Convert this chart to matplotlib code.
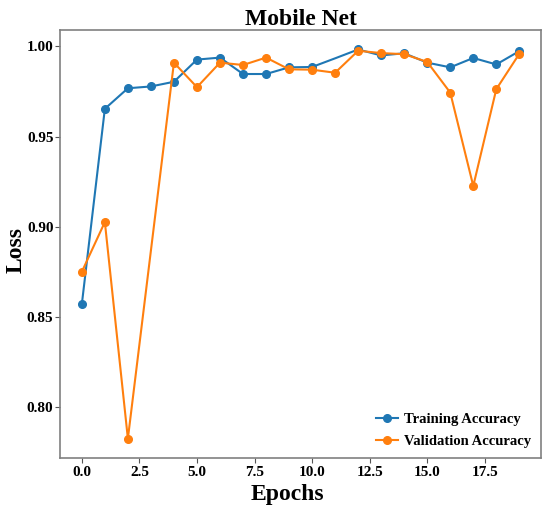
import matplotlib
matplotlib.use("Agg")
import matplotlib.pyplot as plt
import numpy as np

plt.rcParams['font.family'] = ['Liberation Serif', 'DejaVu Serif']
plt.rcParams['font.weight'] = 'bold'

epochs = np.arange(20)
train_acc = [0.857, 0.9654, 0.9768, 0.9778, 0.9804, 0.9927, 0.9938, 0.9847, 0.9847, 0.9884,
             0.9886, 0.9934, 0.9983, 0.9950, 0.9962, 0.9910, 0.9884, 0.9936, 0.9900, 0.9974]
val_acc = [0.875, 0.9026, 0.7825, None, 0.9910, 0.9774, 0.9910, 0.9897, 0.9938, 0.9873,
           0.9871, 0.9854, 0.9976, 0.9963, 0.9957, 0.9914, 0.9744, 0.9226, 0.9763, 0.9959]

# the validation curve has no point at epoch 3, the training curve has no marker at 11
val_x = [e for e, v in zip(epochs, val_acc) if v is not None]
val_y = [v for v in val_acc if v is not None]
train_marks = [i for i in range(len(epochs)) if i != 11]

fig = plt.figure(figsize=(5.5, 5.09), dpi=100)
ax = fig.add_axes([0.109, 0.100, 0.875, 0.841])

ax.plot(epochs, train_acc, color='#1f77b4', lw=1.5, marker='o', ms=5.5,
        markevery=train_marks, label='Training Accuracy')
ax.plot(val_x, val_y, color='#ff7f0e', lw=1.5, marker='o', ms=5.5,
        label='Validation Accuracy')

ax.set_title('Mobile Net', fontsize=17, fontweight='bold', pad=2)
ax.set_xlabel('Epochs', fontsize=17, fontweight='bold')
ax.set_ylabel('Loss', fontsize=17, fontweight='bold')
ax.xaxis.set_label_coords(0.472, -0.060)
ax.yaxis.set_label_coords(-0.070, 0.486)
ax.set_yticks([0.80, 0.85, 0.90, 0.95, 1.00])
ax.set_yticklabels(['0.80', '0.85', '0.90', '0.95', '1.00'])
ax.tick_params(labelsize=11, length=3.5, color='#555555')
ax.tick_params(axis='x', pad=2.5)
ax.tick_params(axis='y', pad=1.2)
for lab in ax.get_xticklabels() + ax.get_yticklabels():
    lab.set_fontweight('bold')
for sp in ax.spines.values():
    sp.set_color('#808080')
    sp.set_linewidth(1.2)

ax.legend(loc='lower right', frameon=False, prop={'weight': 'bold', 'size': 10.5},
          handlelength=1.5, handletextpad=0.4, labelspacing=0.6, borderaxespad=0.3)

fig.savefig('out.png', dpi=100)
